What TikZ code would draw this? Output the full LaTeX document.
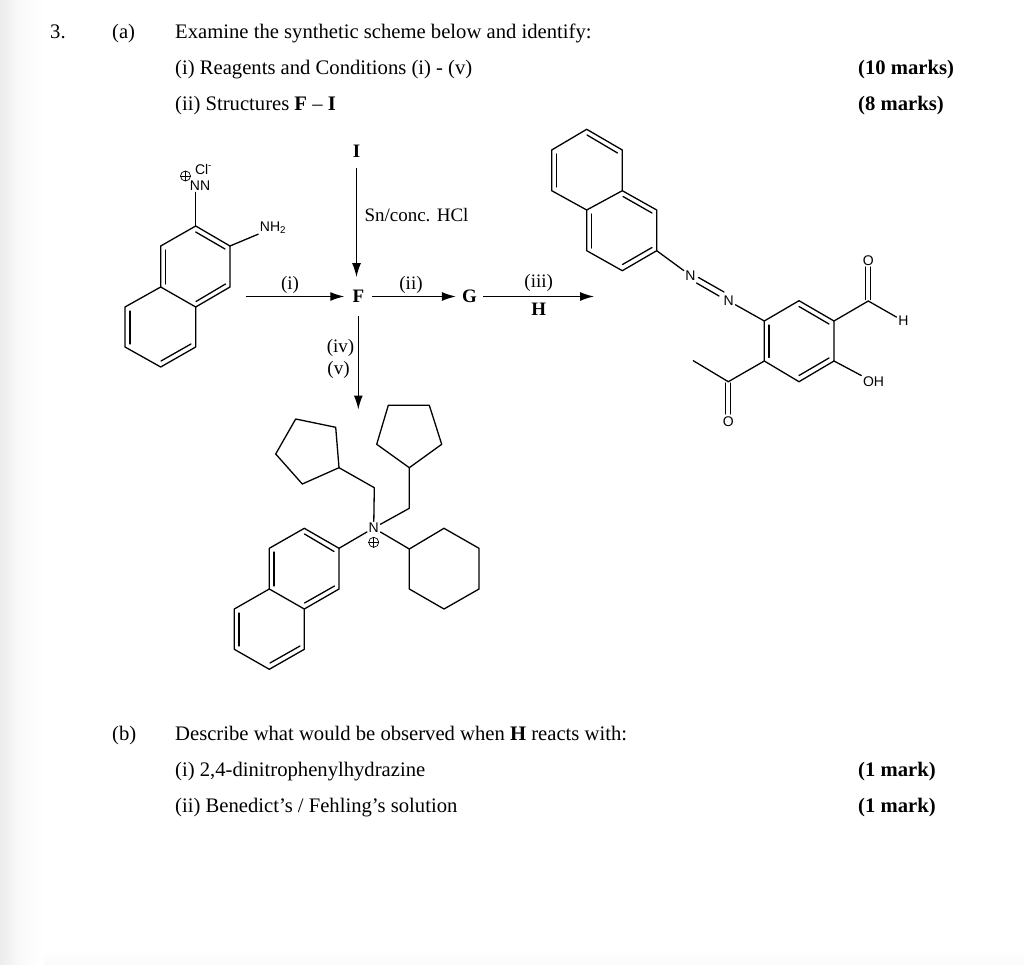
\documentclass[tikz,border=0pt]{standalone}
\usepackage{fontspec}
\setmainfont{Liberation Serif}
\newfontfamily\atomfont{Liberation Sans}
\usetikzlibrary{arrows.meta}
\definecolor{pageshade}{rgb}{0.925,0.925,0.925}
\definecolor{pagefade}{rgb}{0.975,0.975,0.975}
\definecolor{footshade}{rgb}{0.98,0.98,0.98}
\pgfdeclarehorizontalshading{pageedge}{100bp}{color(0bp)=(pageshade); color(25bp)=(pageshade); color(45bp)=(pagefade); color(75bp)=(white); color(100bp)=(white)}

\tikzset{
  bond/.style={line width=1.3pt,line join=round,line cap=round},
  rxnarrow/.style={-{Latex[length=14pt,width=9pt]},line width=1.3pt},
  body/.style={anchor=base west,inner sep=0pt,font=\fontsize{20.65}{24}\selectfont},
  marks/.style={anchor=base west,inner sep=0pt,font=\fontsize{20.65}{24}\selectfont\bfseries},
  rxnlabel/.style={inner sep=0pt,font=\fontsize{19}{22}\selectfont},
  species/.style={inner xsep=8pt,inner ysep=13pt,font=\fontsize{19}{22}\selectfont\bfseries},
  atom/.style={inner sep=1.5pt,font=\atomfont\fontsize{14}{16}\selectfont},
  charge/.style={circle,draw,line width=0.7pt,inner sep=0pt,minimum size=10pt},
}

\begin{document}
\begin{tikzpicture}[x=1pt,y=-1pt]

\useasboundingbox (0,0) rectangle (1024,965);
\shade [top color=white,bottom color=footshade] (0,950) rectangle (1024,965);
\shade [shading=pageedge] (0,0) rectangle (44,965);

% question text
\node [body] (qnum) at (50,38.5) {3.};
\node [body] (parta) at (112,38.5) {(a)};
\node [body] (linea) at (175,38.5) {Examine the synthetic scheme below and identify:};
\node [body] (lineb) at (175,74.5) {(i) Reagents and Conditions (i) - (v)};
\node [body] (linec) at (175,110.5) {(ii) Structures \textbf{F} -- \textbf{I}};
\node [marks] (marka) at (858,75) {(10 marks)};
\node [marks] (markb) at (858,110.5) {(8 marks)};

\node [body] (partb) at (112,740) {(b)};
\node [body] (lined) at (175,740) {Describe what would be observed when \textbf{H} reacts with:};
\node [body] (linee) at (175,776) {(i) 2,4-dinitrophenylhydrazine};
\node [body] (linef) at (175,812) {(ii) Benedict's / Fehling's solution};
\node [marks] (markc) at (858,776) {(1 mark)};
\node [marks] (markd) at (858,812) {(1 mark)};

% reaction scheme
\node [species,inner ysep=10pt] (I) at (356.5,151.5) {I};
\node [species] (F) at (358.3,296.5) {F};
\node [species,inner xsep=6pt] (G) at (469.5,296.5) {G};
\coordinate (schemein) at (245.5,296.5);
\coordinate (schemeout) at (594,296.5);
\coordinate (fdown) at (358.3,409.5);

\draw [rxnarrow] (schemein) -- (F);
\draw [rxnarrow] (I) -- (I |- F.north);
\draw [rxnarrow] (F) -- (G);
\draw [rxnarrow] (G) -- (schemeout);
\draw [rxnarrow] (F) -- (fdown);

\node [rxnlabel] (stepi) at (290,285) {(i)};
\node [rxnlabel] (stepii) at (411,285) {(ii)};
\node [rxnlabel] (stepiii) at (538.7,282.5) {(iii)};
\node [rxnlabel,font=\fontsize{19}{22}\selectfont\bfseries] (H) at (538.7,309.5) {H};
\node [rxnlabel] (stepiv) at (340.5,347.5) {(iv)};
\node [rxnlabel] (stepv) at (338.5,369.5) {(v)};
\node [rxnlabel] (snhcl) at (416.5,215) {Sn/conc. HCl};

% diazonium salt
\draw [bond] (195.7,226) -- (230,246) -- (230,287) -- (195.7,307) -- (160.7,287) -- (160.7,246) -- cycle;
\draw [bond] (195.7,307) -- (195.7,347) -- (160.7,367) -- (125,347) -- (125,307) -- (160.7,287);
\draw [bond] (195.7,232) -- (225,249);
\draw [bond] (165.5,250) -- (165.5,284);
\draw [bond] (225.5,284) -- (196,301.5);
\draw [bond] (130,311) -- (130,344);
\draw [bond] (161,361) -- (191,344);

\coordinate (diazoc) at (195.7,226);
\coordinate (aminoc) at (230,246);
\node [atom] (nn) at (200,186) {NN};
\node [atom] (nh) at (273,228) {NH\textsubscript{2}};
\node [atom] (cl) at (203.5,169) {Cl\textsuperscript{-}};
\node [charge] (plusa) at (185.5,176) {};
\draw [line width=0.7pt] (plusa.west) -- (plusa.east) (plusa.north) -- (plusa.south);
\draw [bond] (diazoc) -- (diazoc |- nn.south);
\draw [bond] (aminoc) -- (nh);

% azo product
\draw [bond] (586.7,129.3) -- (622.3,150) -- (622.3,190.7) -- (586.7,210) -- (551.7,190.7) -- (551.7,150) -- cycle;
\draw [bond] (622.3,190.7) -- (656.7,210) -- (656.7,250.7) -- (622.3,270.7) -- (586.7,250.7) -- (586.7,210);
\draw [bond] (587,135) -- (617.5,153);
\draw [bond] (556.5,154) -- (556.5,187);
\draw [bond] (623,196.5) -- (652,213);
\draw [bond] (591.5,214) -- (591.5,248);
\draw [bond] (622.5,264.5) -- (652,247.5);

\draw [bond] (764.3,321) -- (799,300.7) -- (834,321) -- (834,361) -- (799,381.7) -- (764.3,361) -- cycle;
\draw [bond] (799,306.5) -- (829,324);
\draw [bond] (769,325) -- (769,357.5);
\draw [bond] (829,358) -- (799,375.5);

\coordinate (azoc) at (656.7,250.7);
\coordinate (ringc) at (764.3,321);
\coordinate (formylc) at (868.3,301);
\coordinate (acetylc) at (728.3,381.7);
\node [atom] (na) at (690.5,275.5) {N};
\node [atom] (nb) at (728.7,301) {N};
\node [atom] (oa) at (868.3,260.5) {O};
\node [atom] (ha) at (903.3,321) {H};
\node [atom] (oh) at (873.5,382) {OH};
\node [atom] (ob) at (728.3,421.5) {O};

\draw [bond] (azoc) -- (na);
\draw [bond] (nb) -- (ringc);
\draw [bond] (698.5,277.5) -- (724,292);
\draw [bond] (696.5,283) -- (719,296);
\draw [bond] (834,321) -- (formylc);
\draw [bond] (formylc) -- (ha);
\draw [bond] (865.8,299.5) -- (865.8,267);
\draw [bond] (870.8,299.5) -- (870.8,267);
\draw [bond] (834,361) -- (oh);
\draw [bond] (764.3,361) -- (acetylc);
\draw [bond] (acetylc) -- (693.3,360.7);
\draw [bond] (725.8,383) -- (725.8,414);
\draw [bond] (730.8,383) -- (730.8,414);

% quaternary ammonium product
\draw [bond] (304.3,528.3) -- (339,548.3) -- (339,589) -- (304.3,609) -- (269.3,589) -- (269.3,548.3) -- cycle;
\draw [bond] (304.3,609) -- (304.3,649.3) -- (269.3,669.3) -- (234.3,649.3) -- (234.3,609) -- (269.3,589);
\draw [bond] (304.5,534) -- (334,551.5);
\draw [bond] (274,552) -- (274,586);
\draw [bond] (334.5,586) -- (304.5,603);
\draw [bond] (239,613) -- (239,646);
\draw [bond] (270,663) -- (300,646);

\draw [bond] (339,467.7) -- (335.7,427.3) -- (295.7,419) -- (275.7,454) -- (302.3,484) -- cycle;
\draw [bond] (409.3,467.7) -- (441.7,444.3) -- (429.3,405.3) -- (388.3,405.3) -- (376.7,444.3) -- cycle;
\draw [bond] (409.3,549) -- (444,528.3) -- (479,548.3) -- (479,589) -- (444,609) -- (409.3,589) -- cycle;

\coordinate (arylc) at (339,548.3);
\coordinate (hexc) at (409.3,549);
\node [atom] (nq) at (373.7,528) {N};
\node [charge] (plusb) at (373.7,542.3) {};
\draw [line width=0.7pt] (plusb.west) -- (plusb.east) (plusb.north) -- (plusb.south);

\draw [bond] (arylc) -- (nq);
\draw [bond] (nq) -- (hexc);
\draw [bond] (nq) -- (374.3,487.7) -- (339,467.7);
\draw [bond] (nq) -- (409.3,508.3) -- (409.3,467.7);

\end{tikzpicture}
\end{document}
